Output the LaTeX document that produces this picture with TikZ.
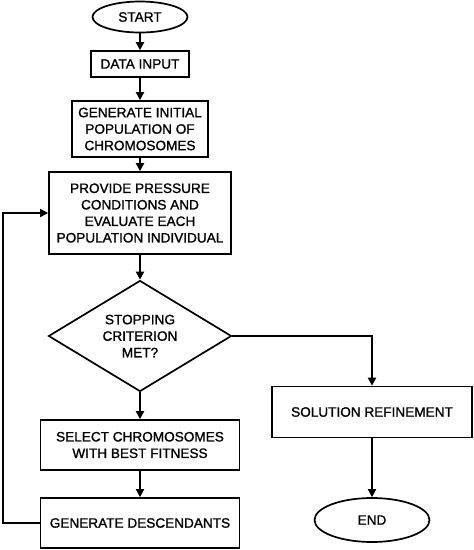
\documentclass[tikz,border=0pt]{standalone}
\usepackage{fontspec}
\setmainfont{Liberation Sans}[FakeBold=1.2]
\usetikzlibrary{shapes.geometric,arrows.meta}
\begin{document}
\begin{tikzpicture}[x=1pt,y=-1pt,
  every node/.style={font=\fontsize{13.6}{16.5}\selectfont, align=center, inner sep=0pt},
  boxnode/.style={draw, line width=1.7pt, rectangle},
  termnode/.style={draw, line width=1.7pt, ellipse},
  decnode/.style={draw, line width=1.7pt, diamond},
  arr/.style={line width=2.2pt, -{Triangle[length=8pt,width=8pt]}},
  fb/.style={line width=1.7pt, -{Triangle[length=8pt,width=8pt]}}]
\useasboundingbox (0,0) rectangle (474,550);
\node[termnode, minimum width=95pt, minimum height=31pt] (start) at (140,17) {START};
\node[boxnode, minimum width=98pt, minimum height=26pt] (data) at (140,64) {DATA INPUT};
\node[boxnode, minimum width=136pt, minimum height=56pt] (gen) at (140,129) {GENERATE INITIAL\\POPULATION OF\\CHROMOSOMES};
\node[boxnode, minimum width=182pt, minimum height=82pt] (prov) at (140,213) {PROVIDE PRESSURE\\CONDITIONS AND\\EVALUATE EACH\\POPULATION INDIVIDUAL};
\node[decnode, minimum width=183pt, minimum height=111pt, aspect=1.65] (dec) at (140,336) {STOPPING\\CRITERION\\MET?};
\node[boxnode, minimum width=199pt, minimum height=50pt] (sel) at (140,445) {SELECT CHROMOSOMES\\WITH BEST FITNESS};
\node[boxnode, minimum width=199pt, minimum height=50pt] (gd) at (140,523) {GENERATE DESCENDANTS};
\node[boxnode, minimum width=200pt, minimum height=51pt] (sol) at (372,412) {SOLUTION REFINEMENT};
\node[termnode, minimum width=115pt, minimum height=44pt] (end) at (372,520) {END};
\coordinate (lft) at (3,523);
\draw[arr] (start) -- (data);
\draw[arr] (data) -- (gen);
\draw[arr] (gen) -- (prov);
\draw[arr] (prov) -- (dec);
\draw[arr] (dec) -- (sel);
\draw[arr] (sel) -- (gd);
\draw[arr] (dec.east) -| (sol.north);
\draw[arr] (sol) -- (end);
\draw[fb] (gd.west) -- (lft) |- (prov.west);
\end{tikzpicture}
\end{document}
